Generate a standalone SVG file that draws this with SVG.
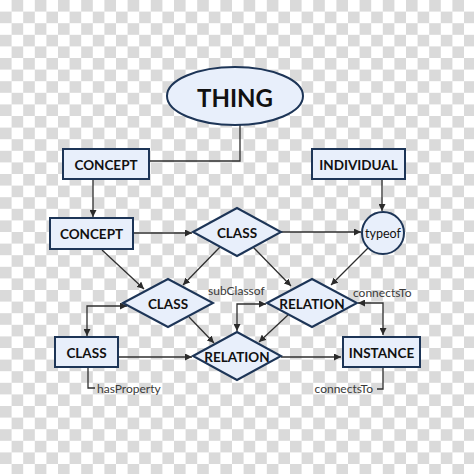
<svg xmlns="http://www.w3.org/2000/svg" width="474" height="474" viewBox="0 0 474 474">
<defs>
<pattern id="checker" patternUnits="userSpaceOnUse" width="23.2" height="23.2">
<rect width="23.2" height="23.2" fill="#ffffff"/>
<rect x="11.6" y="0" width="11.6" height="11.6" fill="#dadada"/>
<rect x="0" y="11.6" width="11.6" height="11.6" fill="#dadada"/>
</pattern>
<marker id="arr" viewBox="0 0 10 10" refX="10" refY="5" markerWidth="7" markerHeight="7" markerUnits="userSpaceOnUse" orient="auto-start-reverse">
<path d="M0,0 L10,5 L0,10 Z" fill="#2b2b2b"/>
</marker>
<style>
.node{fill:#e8effb;stroke:#1d3557;stroke-width:2}
.t{font-family:Lato,"Liberation Sans",sans-serif;font-weight:bold;font-size:13.5px;fill:#111;text-anchor:middle;dominant-baseline:central}
.big{font-size:24px}
.reg{font-weight:normal;font-size:12.5px}
.lbl{font-family:Lato,"Liberation Sans",sans-serif;font-size:12px;fill:#3a3a3a}
.c{fill:none;stroke:#2f2f2f;stroke-width:1.3}
.a{marker-end:url(#arr)}
.b{marker-start:url(#arr);marker-end:url(#arr)}
</style>
</defs>
<rect width="474" height="474" fill="url(#checker)"/>
<g id="connectors">
<path class="c" d="M240 125 V161 H149"/>
<path class="c a" d="M93 179 V217"/>
<path class="c a" d="M133 233 H192"/>
<path class="c a" d="M280 232 H361"/>
<path class="c a" d="M382 179 V211"/>
<path class="c a" d="M102 250 L144 289"/>
<path class="c a" d="M220 247 L183 285"/>
<path class="c a" d="M253 247 L291 286"/>
<path class="c a" d="M368 248 L331 285"/>
<path class="c b" d="M127 306 H87 V336"/>
<path class="c a" d="M118 357 H192"/>
<path class="c a" d="M189 317 L214 343"/>
<path class="c a" d="M288 315 L259 342"/>
<path class="c b" d="M237 331 V304 H266"/>
<path class="c b" d="M358 303 H383 V335"/>
<path class="c a" d="M281 357 H341"/>
<path class="c" d="M88 367 V388 H95"/>
<path class="c" d="M383 367 V389 H377"/>
<text class="lbl" x="208" y="295">subClassof</text>
<text class="lbl" x="353" y="297">connectsTo</text>
<text class="lbl" x="97" y="393">hasProperty</text>
<text class="lbl" x="373" y="393" text-anchor="end">connectsTo</text>
</g>
<g id="thing">
<ellipse class="node" cx="235" cy="96" rx="68" ry="29"/>
<text class="t big" x="235" y="97">THING</text>
</g>
<g id="concept1">
<rect class="node" x="63" y="149" width="86" height="30"/>
<text class="t" x="106" y="164.5">CONCEPT</text>
</g>
<g id="individual">
<rect class="node" x="312" y="149" width="93" height="30"/>
<text class="t" x="358.5" y="164.5">INDIVIDUAL</text>
</g>
<g id="concept2">
<rect class="node" x="50" y="218" width="83" height="31"/>
<text class="t" x="91.5" y="234">CONCEPT</text>
</g>
<g id="class-top">
<polygon class="node" points="193,232 237,208 281,232 237,256"/>
<text class="t" x="237" y="232.5">CLASS</text>
</g>
<g id="typeof">
<circle class="node" cx="383" cy="233" r="21"/>
<text class="t reg" x="383" y="233">typeof</text>
</g>
<g id="class-mid">
<polygon class="node" points="123,303 168,279 213,303 168,327"/>
<text class="t" x="168" y="303.5">CLASS</text>
</g>
<g id="relation-mid">
<polygon class="node" points="267,303 312,279 357,303 312,327"/>
<text class="t" x="312" y="303.5">RELATION</text>
</g>
<g id="class-box">
<rect class="node" x="55" y="337" width="63" height="30"/>
<text class="t" x="86.5" y="352.5">CLASS</text>
</g>
<g id="relation-bottom">
<polygon class="node" points="193,356 237,332 281,356 237,380"/>
<text class="t" x="237" y="356.5">RELATION</text>
</g>
<g id="instance">
<rect class="node" x="343" y="337" width="77" height="30"/>
<text class="t" x="381.5" y="352.5">INSTANCE</text>
</g>
</svg>
